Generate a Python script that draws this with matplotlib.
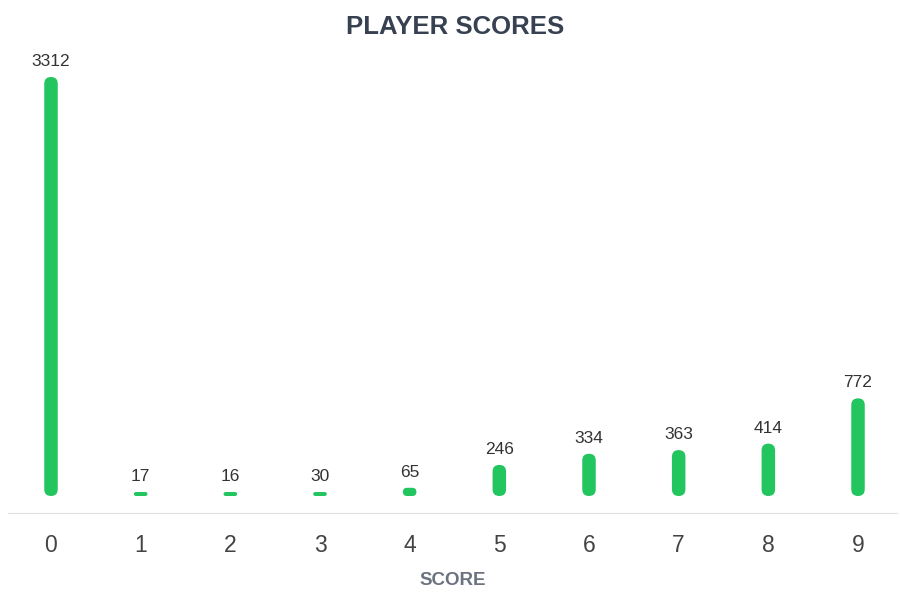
import numpy as np
import matplotlib
matplotlib.use("Agg")
import matplotlib.pyplot as plt
from matplotlib.patches import FancyBboxPatch

# data
scores = [0, 1, 2, 3, 4, 5, 6, 7, 8, 9]
players = [3312, 17, 16, 30, 65, 246, 334, 363, 414, 772]

green = "#22c55e"
plt.rcParams["font.family"] = ["Liberation Sans", "DejaVu Sans"]

fig = plt.figure(figsize=(9, 6), dpi=100)
# axes box in pixels: x 8..897, y (from top) 50..513
ax = fig.add_axes([8 / 900, (600 - 513) / 600, 889 / 900, 463 / 600])

# pixel scales
px_per_x = 807 / 9.0
px_per_y = 419 / 3312.0
ax.set_xlim(-(51 - 8) / px_per_x, 9 + (897 - 858) / px_per_x)
ax.set_ylim(-17 / px_per_y, (496 - 50) / px_per_y)

bar_w = 13.5 / px_per_x
aspect = px_per_x / px_per_y  # y units per x unit, in pixels
for x, v in zip(scores, players):
    h = max(v, 4 / px_per_y)  # keep tiny bars visible as a pill
    r = min(bar_w / 2, (h / aspect) / 2)
    p = FancyBboxPatch((x - bar_w / 2, 0), bar_w, h,
                       boxstyle="round,pad=0,rounding_size=%f" % r,
                       mutation_aspect=aspect,
                       facecolor=green, edgecolor="none")
    ax.add_patch(p)
    ax.annotate(str(v), (x, h), xytext=(0, 8), textcoords="offset points",
                ha="center", va="baseline", fontsize=12.5, color="#333333")

for s in ["top", "left", "right"]:
    ax.spines[s].set_visible(False)
ax.spines["bottom"].set_color("#e2e2e2")
ax.spines["bottom"].set_position(("data", -17 / px_per_y))
ax.set_yticks([])
ax.set_xticks(scores)
ax.set_xticklabels([str(s) for s in scores])
ax.tick_params(axis="x", length=0, pad=15, labelsize=16.5, labelcolor="#444444")

ax.set_xlabel("SCORE", fontsize=13.5, fontweight="bold", color="#6b7280",
              labelpad=11)
fig.text(455 / 900, 1 - 27 / 600, "PLAYER SCORES", ha="center", va="center",
         fontsize=18.5, fontweight="bold", color="#374151")

fig.savefig("out.png", dpi=100)
